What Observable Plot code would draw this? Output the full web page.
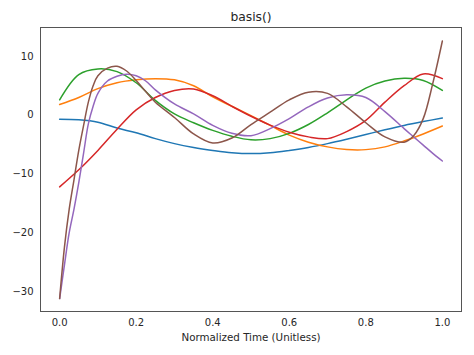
<!DOCTYPE html>
<html>
<head>
<meta charset="utf-8">
<script src="https://cdn.jsdelivr.net/npm/d3@7"></script>
<script src="https://cdn.jsdelivr.net/npm/@observablehq/plot@0.6"></script>
<style>
  html, body { margin: 0; padding: 0; background: #fff; }
  svg { display: block; }
</style>
</head>
<body>
<div id="chart"></div>
<script>
// Shared time grid (normalized time)
const t = [0, 0.05, 0.1, 0.15, 0.2, 0.25, 0.3, 0.35, 0.4, 0.45, 0.5,
           0.55, 0.6, 0.65, 0.7, 0.75, 0.8, 0.85, 0.9, 0.95, 1.0];
// Finer grid for the two steep curves
const tSteep = [0, 0.0125, 0.025, 0.0375, 0.05, 0.0625, 0.075, 0.0875, 0.1, 0.125,
                0.15, 0.175, 0.2, 0.225, 0.25, 0.3, 0.35, 0.4, 0.45, 0.5,
                0.55, 0.6, 0.65, 0.7, 0.75, 0.8, 0.85, 0.9, 0.925, 0.95, 0.975, 1.0];

const blue   = [-0.7, -0.8, -1.2, -2.2, -3.0, -4.0, -4.85, -5.5, -6.0, -6.4, -6.55,
                -6.4, -6.0, -5.5, -4.85, -4.1, -3.3, -2.5, -1.75, -1.1, -0.5];
const orange = [1.8, 3.0, 4.5, 5.5, 6.0, 6.2, 6.0, 5.0, 3.1, 1.5, -0.1,
                -1.75, -3.4, -4.6, -5.4, -5.85, -5.87, -5.4, -4.4, -3.2, -1.85];
const green  = [2.6, 6.9, 7.85, 7.4, 5.5, 2.5, 0.2, -1.3, -2.6, -3.6, -4.2,
                -4.0, -3.1, -1.6, 0.4, 2.6, 4.6, 5.8, 6.25, 5.9, 4.2];
const red    = [-12.2, -9.3, -6.0, -2.4, 0.9, 3.0, 4.2, 4.45, 3.3, 1.5, -0.2,
                -1.7, -2.9, -3.7, -4.0, -2.8, -0.9, 2.2, 5.0, 7.0, 6.2];
const purple = [-31.2, -25.5, -20.0, -16.0, -11.5, -6.5, -1.5, 1.5, 3.7, 5.8,
                6.6, 6.95, 6.7, 5.8, 4.3, 1.9, 0.2, -1.75, -3.1, -3.5,
                -2.3, -0.6, 1.4, 2.9, 3.45, 3.0, 0.6, -2.3, -3.7, -5.1, -6.5, -7.8];
const brown  = [-31.2, -22.5, -16.0, -11.0, -6.0, -1.8, 2.2, 5.0, 6.7, 8.0,
                8.3, 7.5, 5.9, 4.0, 2.2, -0.4, -3.2, -4.75, -3.9, -1.6,
                0.5, 2.6, 3.9, 3.7, 1.4, -1.3, -3.7, -4.6, -3.5, -0.6, 5.4, 12.6];

const xTicks = [0, 0.2, 0.4, 0.6, 0.8, 1.0];
const yTicks = [-30, -20, -10, 0, 10];
const titleText = "basis()";
const xLabel = "Normalized Time (Unitless)";

const seriesList = [
  {name: "C0", t: t, v: blue,   color: "#1f77b4"},
  {name: "C1", t: t, v: orange, color: "#ff7f0e"},
  {name: "C2", t: t, v: green,  color: "#2ca02c"},
  {name: "C3", t: t, v: red,    color: "#d62728"},
  {name: "C4", t: tSteep, v: purple, color: "#9467bd"},
  {name: "C5", t: tSteep, v: brown,  color: "#8c564b"}
];

const fmtY = d => (d < 0 ? "\u2212" + Math.abs(d) : String(d));
const fmtX = d3.format(".1f");

const lineMarks = seriesList.map(s =>
  Plot.line(s.t.map((tt, i) => ({t: tt, v: s.v[i]})), {
    x: "t", y: "v", stroke: s.color, strokeWidth: 1.5, curve: "catmull-rom"
  })
);

const chart = Plot.plot({
  width: 474,
  height: 355,
  marginLeft: 40,
  marginRight: 13,
  marginTop: 27,
  marginBottom: 44,
  style: {fontFamily: "DejaVu Sans", fontSize: "10px", color: "#262626", background: "#fff"},
  x: {domain: [-0.05, 1.05]},
  y: {domain: [-33.4, 14.9]},
  marks: [
    ...lineMarks,
    Plot.frame({stroke: "#555", strokeWidth: 1}),
    Plot.axisX({ticks: xTicks, tickFormat: fmtX, tickSize: 0, tickPadding: 7, label: null, fill: "#262626"}),
    Plot.axisY({ticks: yTicks, tickFormat: fmtY, tickSize: 0, tickPadding: 7, label: null, fill: "#262626"}),
    Plot.text([xLabel], {frameAnchor: "bottom", dy: 26.5, text: d => d, fontSize: 10.3, fill: "#262626", lineAnchor: "middle"}),
    Plot.text([titleText], {frameAnchor: "top", dy: -10.5, text: d => d, fontSize: 12.3, fill: "#262626", lineAnchor: "middle"})
  ]
});

document.getElementById("chart").appendChild(chart);
</script>
</body>
</html>
